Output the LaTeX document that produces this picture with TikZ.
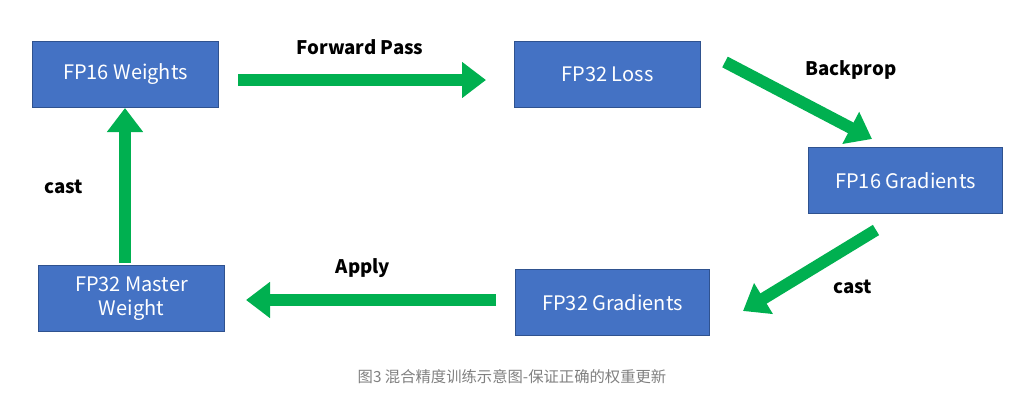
\documentclass[tikz,border=0pt]{standalone}
\usepackage{fontspec}
\setmainfont{Noto Sans CJK SC}
\usetikzlibrary{arrows.meta}
\definecolor{boxblue}{HTML}{4472C4}
\definecolor{boxedge}{HTML}{2F528F}
\definecolor{arrgreen}{HTML}{00B050}
\begin{document}
\begin{tikzpicture}[x=0.75pt,y=-0.75pt,
  box/.style={draw=boxedge,line width=0.8pt,fill=boxblue,text=white,font=\fontsize{15}{18}\selectfont,align=center,inner sep=0pt},
  garrow/.style={draw=arrgreen,line width=9pt,-{Triangle[width=26pt,length=18pt]}},
  lab/.style={font=\fontsize{14}{16}\selectfont\bfseries}]
\useasboundingbox (0,0) rectangle (1025,407);
\node[box,minimum width=139pt,minimum height=49pt] (w16) at (125.5,74.5) {FP16 Weights};
\node[box,minimum width=139pt,minimum height=49pt] (loss) at (607.5,74.5) {FP32 Loss};
\node[box,minimum width=146pt,minimum height=49pt] (g16) at (905.5,180.5) {FP16 Gradients};
\node[box,minimum width=146pt,minimum height=49pt] (g32) at (612.5,302.5) {FP32 Gradients};
\node[box,minimum width=140pt,minimum height=50pt] (m32) at (131.5,298.5) {FP32 Master\\Weight};
\coordinate (a1s) at (238,80); \coordinate (a1e) at (486,80);
\coordinate (a2s) at (725,62); \coordinate (a2e) at (872,139);
\coordinate (a3s) at (876,230); \coordinate (a3e) at (743,311);
\coordinate (a4s) at (496,300); \coordinate (a4e) at (246,300);
\coordinate (a5s) at (125,263); \coordinate (a5e) at (125,108);
\draw[garrow] (a1s) -- (a1e);
\draw[garrow] (a2s) -- (a2e);
\draw[garrow] (a3s) -- (a3e);
\draw[garrow] (a4s) -- (a4e);
\draw[garrow] (a5s) -- (a5e);
\node[lab] (l1) at (360,47) {Forward Pass};
\node[lab] (l2) at (851,70) {Backprop};
\node[lab] (l3) at (853,287) {cast};
\node[lab] (l4) at (363,268) {Apply};
\node[lab] (l5) at (64,187) {cast};
\node[text=gray,font=\fontsize{11.5}{14}\selectfont] (cap) at (512,377) {图3 混合精度训练示意图-保证正确的权重更新};
\end{tikzpicture}
\end{document}
